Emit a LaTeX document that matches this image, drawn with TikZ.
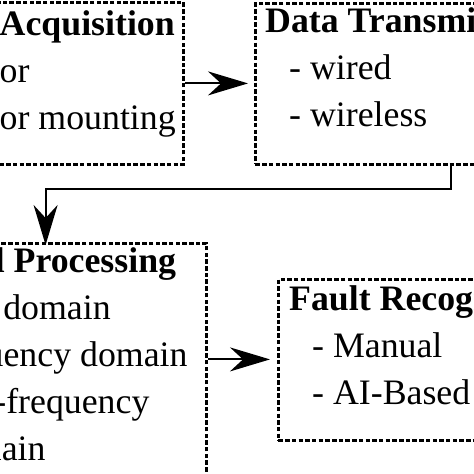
\documentclass[tikz,border=0pt]{standalone}
\usepackage{fontspec}
\setmainfont{Liberation Serif}
\usepackage{tikz}
\usetikzlibrary{arrows.meta,positioning}

\newcommand{\stagefont}{\fontsize{35.8}{47}\selectfont}
\newcommand{\firstline}{\rule{0pt}{30pt}}

\begin{document}
\begin{tikzpicture}[x=1pt, y=-1pt,
  stage/.style={draw, line width=2.8pt, dash pattern=on 4.5pt off 2.2pt, inner sep=0pt},
  stagetext/.style={anchor=north west, inner sep=0pt, align=left, font=\stagefont},
  flow/.style={-{Stealth[length=40pt, width=24pt, inset=13pt]}, line width=2pt}]
  % Frame
  \useasboundingbox (0,0) rectangle (474,474);
  \clip (0,0) rectangle (474,474);

  % Stage boxes
  \node[stage, minimum width=278pt, minimum height=162pt, anchor=north east] (acq) at (185,1) {};
  \node[stage, minimum width=312pt, minimum height=161pt, anchor=north west] (trans) at (254,2) {};
  \node[stage, minimum width=311pt, minimum height=232pt, anchor=north east] (proc) at (208,242) {};
  \node[stage, minimum width=298pt, minimum height=161pt, anchor=north west] (fault) at (277,278) {};

  % Stage texts
  \node[stagetext] (acqtext) at (-83,5) {\firstline\textbf{Data Acquisition}\\
    - sensor\\
    - sensor mounting};
  \node[stagetext] (transtext) at (265,2) {\firstline\textbf{Data Transmission}\\
    \hspace*{24pt}- wired\\
    \hspace*{24pt}- wireless};
  \node[stagetext] (proctext) at (-101,242) {\firstline\hspace*{10pt}\textbf{Signal Processing}\\
    - Time domain\\
    - Frequency domain\\
    - Time-frequency\\
    \hspace*{39pt}domain};
  \node[stagetext] (faulttext) at (289,280) {\firstline\textbf{Fault Recognition}\\
    \hspace*{23pt}- Manual\\
    \hspace*{23pt}- AI-Based};

  % Connectors
  \draw[flow, shorten >=6pt] (acq.east) -- (acq.east -| trans.west);
  \draw[flow, shorten >=-3pt] ([xshift=40pt]trans.south) -- ++(0,23) -| ([xshift=-5.5pt]proc.north);
  \draw[flow, shorten >=7pt] (proc.east) -- (proc.east -| fault.west);
\end{tikzpicture}
\end{document}
